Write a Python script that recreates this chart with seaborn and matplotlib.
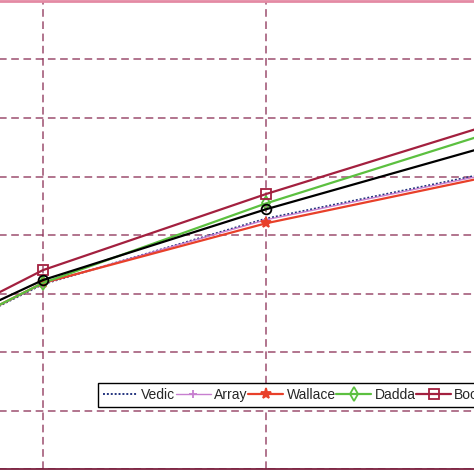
import matplotlib
matplotlib.use("Agg")
import matplotlib.pyplot as plt
import seaborn as sns
import pandas as pd

sns.set_theme(style="white")
plt.rcParams['font.family'] = ['Liberation Sans', 'DejaVu Sans']

# data (x index positions; axis labels lie outside the visible crop)
x_pos = [0, 1, 2, 3]
vedic = [6.3, 15.8, 21.4, 25.3]
array_ = [6.3, 15.85, 21.3, 25.2]
wallace = [6.3, 15.9, 21.0, 25.0]
dadda = [6.3, 15.9, 22.7, 28.7]
booth = [7.3, 17.0, 23.5, 29.4]
proposed = [7.3, 16.15, 22.2, 27.6]

series = [
    ("Vedic", vedic, dict(color="#24347f", linestyle=(0, (1, 1)), marker=None, lw=1.4)),
    ("Array", array_, dict(color="#c77fd0", linestyle="-", marker="+", lw=1.0, ms=6)),
    ("Wallace", wallace, dict(color="#e8402a", linestyle="-", marker="*", lw=1.6, ms=8)),
    ("Dadda", dadda, dict(color="#5cc040", linestyle="-", marker="d", lw=1.6, ms=7, mfc="none")),
    ("Booth", booth, dict(color="#a3203f", linestyle="-", marker="s", lw=1.6, ms=7, mfc="none")),
    ("Proposed", proposed, dict(color="#000000", linestyle="-", marker="o", lw=1.6, ms=7, mfc="none")),
]

fig = plt.figure(figsize=(4.74, 4.74), dpi=100)
W = 474.0
left_px, right_px = -180.0, 489.0
top_px, bot_px = 1.0, 469.0
ax = fig.add_axes([left_px / W, (W - bot_px) / W, (right_px - left_px) / W, (bot_px - top_px) / W])

handles = []
for name, vals, st in series:
    df = pd.DataFrame({"x": x_pos, "y": vals})
    kw = dict(color=st["color"], linestyle=st["linestyle"], linewidth=st["lw"])
    if st.get("marker"):
        kw.update(marker=st["marker"], markersize=st.get("ms", 6),
                  markeredgecolor=st["color"], markerfacecolor=st.get("mfc", st["color"]),
                  markeredgewidth=1.3)
    sns.lineplot(data=df, x="x", y="y", ax=ax, label=name, legend=False, **kw)
    handles.append(ax.lines[-1])

ax.set_xlim(0, 3)
ax.set_ylim(0, 40)
ax.set_xticks(x_pos)
ax.set_yticks(range(0, 41, 5))
ax.tick_params(labelbottom=False, labelleft=False, length=0)
ax.grid(True, linestyle=(0, (5, 3)), color="#8b3056", linewidth=1.1, alpha=0.85)
ax.set_xlabel("")
ax.set_ylabel("")
for s in ["left", "right", "bottom"]:
    ax.spines[s].set_color("#7a1f3d")
    ax.spines[s].set_linewidth(1.3)
ax.spines["top"].set_color("#e48aa4")
ax.spines["top"].set_linewidth(2)

leg = ax.legend(handles=handles, labels=[s[0] for s in series], ncol=6,
                loc="upper left", bbox_to_anchor=(98 / W, (W - 383) / W),
                bbox_transform=fig.transFigure, borderaxespad=0,
                fontsize=10, handlelength=2.5, handletextpad=0.25,
                columnspacing=0.05, borderpad=0.35, frameon=True, fancybox=False)
leg.get_frame().set_edgecolor("black")
leg.get_frame().set_linewidth(1.0)
leg.get_frame().set_alpha(1)

fig.savefig("out.png", dpi=100)
